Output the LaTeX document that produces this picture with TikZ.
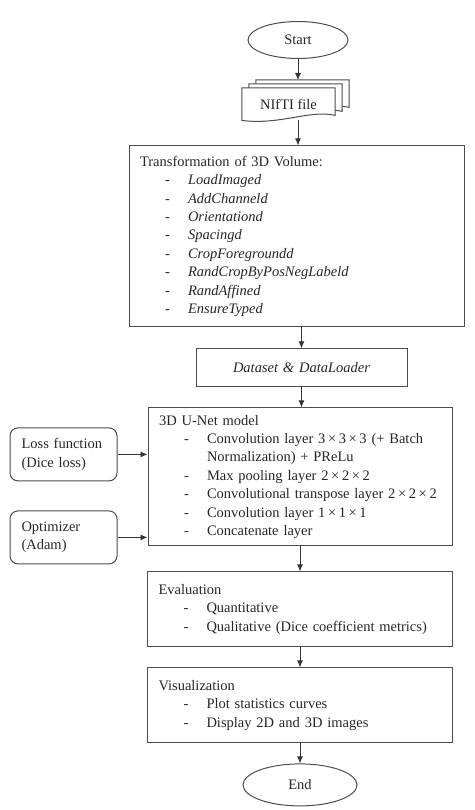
\documentclass[tikz,border=0pt]{standalone}
\usepackage{fontspec}
\setmainfont{Liberation Serif}
\usetikzlibrary{positioning}
\usetikzlibrary{calc}
\usetikzlibrary{shapes.geometric}
\usetikzlibrary{arrows.meta}
\usetikzlibrary{backgrounds}

\newcommand{\stepitem}[1]{\\\hspace*{25pt}\makebox[23pt][l]{-}\mbox{#1}}
\newcommand{\bytimes}{\hspace{0.18em}×\hspace{0.18em}}

\begin{document}
\begin{tikzpicture}[x=1pt, y=1pt,
    font=\fontsize{14.5}{18.4}\selectfont, text=black!85,
    box/.style={draw=black!70, line width=1pt, fill=white, align=left, inner xsep=11pt, inner ysep=0pt},
    terminal/.style={ellipse, draw=black!70, line width=1pt, inner sep=0pt},
    side/.style={draw=black!70, line width=1pt, rounded corners=8pt, align=left, text width=84pt, minimum height=53pt, inner xsep=11.5pt, inner ysep=0pt},
    sheet/.style={draw=black!70, line width=1pt, fill=white},
    flow/.style={-{Latex[length=7pt, width=6pt]}, draw=black!80, line width=0.9pt}]

    \useasboundingbox (0,0) rectangle (474,-810);

    \node[terminal, minimum width=100pt, minimum height=37pt] (start) at (298,-40) {Start};
    \node[minimum width=93pt, minimum height=32pt, inner sep=0pt, below=29pt of start, xshift=-9.5pt] (nifti) {NIfTI file};
    \coordinate (sheettop) at ($(nifti.north)+(0,8)$);

    % stacked files
    \begin{pgfonlayer}{background}
        \foreach \s in {2,1,0}
            \filldraw[sheet] ($(nifti.north west)+(7*\s,4*\s)$) -- ($(nifti.north east)+(7*\s,4*\s)$)
                -- ($(nifti.south east)+(7*\s,4*\s+5)$)
                .. controls ($(nifti.south east)+(7*\s-25,4*\s+11)$) and ($(nifti.south west)+(7*\s+38,4*\s-5)$)
                .. ($(nifti.south west)+(7*\s,4*\s)$) -- cycle;
    \end{pgfonlayer}

    \node[box, text width=313pt, minimum height=181pt, below=25pt of nifti, xshift=8pt] (trans) {Transformation of 3D Volume:
        \stepitem{\textit{LoadImaged}}
        \stepitem{\textit{AddChanneld}}
        \stepitem{\textit{Orientationd}}
        \stepitem{\textit{Spacingd}}
        \stepitem{\textit{CropForegroundd}}
        \stepitem{\textit{RandCropByPosNegLabeld}}
        \stepitem{\textit{RandAffined}}
        \stepitem{\textit{EnsureTyped}}};

    \node[box, text width=189pt, minimum height=38pt, align=center, below=21pt of trans, xshift=5pt] (data) {\textit{Dataset \& DataLoader}};

    \node[box, text width=282pt, minimum height=138pt, below=20pt of data, xshift=-1.5pt] (unet) {3D U-Net model
        \stepitem{Convolution layer 3\bytimes 3\bytimes 3 (+ Batch}
        \\\hspace*{48pt}Normalization) + PReLu
        \stepitem{Max pooling layer 2\bytimes 2\bytimes 2}
        \stepitem{Convolutional transpose layer 2\bytimes 2\bytimes 2}
        \stepitem{Convolution layer 1\bytimes 1\bytimes 1}
        \stepitem{Concatenate layer}};

    \node[box, text width=283pt, minimum height=75pt, below=25pt of unet] (eval) {Evaluation
        \stepitem{Quantitative}
        \stepitem{Qualitative (Dice coefficient metrics)}};

    \node[box, text width=283pt, minimum height=75pt, below=20pt of eval] (vis) {Visualization
        \stepitem{Plot statistics curves}
        \stepitem{Display 2D and 3D images}};

    \node[terminal, minimum width=114pt, minimum height=42pt, below=20pt of vis] (end) {End};

    % inputs to the model
    \node[side, left=30pt of unet.west, yshift=22.5pt] (loss) {Loss function\\(Dice loss)};
    \node[side, below=29pt of loss] (opt) {Optimizer\\(Adam)};

    \draw[flow] (start.south) -- (start.south |- sheettop);
    \draw[flow] (start.south |- nifti.south) -- (start.south |- trans.north);
    \draw[flow] (data.north |- trans.south) -- (data.north);
    \draw[flow] (data.south) -- (data.south |- unet.north);
    \draw[flow] (unet.south) -- (unet.south |- eval.north);
    \draw[flow] (eval.south) -- (eval.south |- vis.north);
    \draw[flow] (vis.south) -- (vis.south |- end.north);
    \draw[flow] (loss.east) -- (loss.east -| unet.west);
    \draw[flow] (opt.east) -- (opt.east -| unet.west);
\end{tikzpicture}
\end{document}
